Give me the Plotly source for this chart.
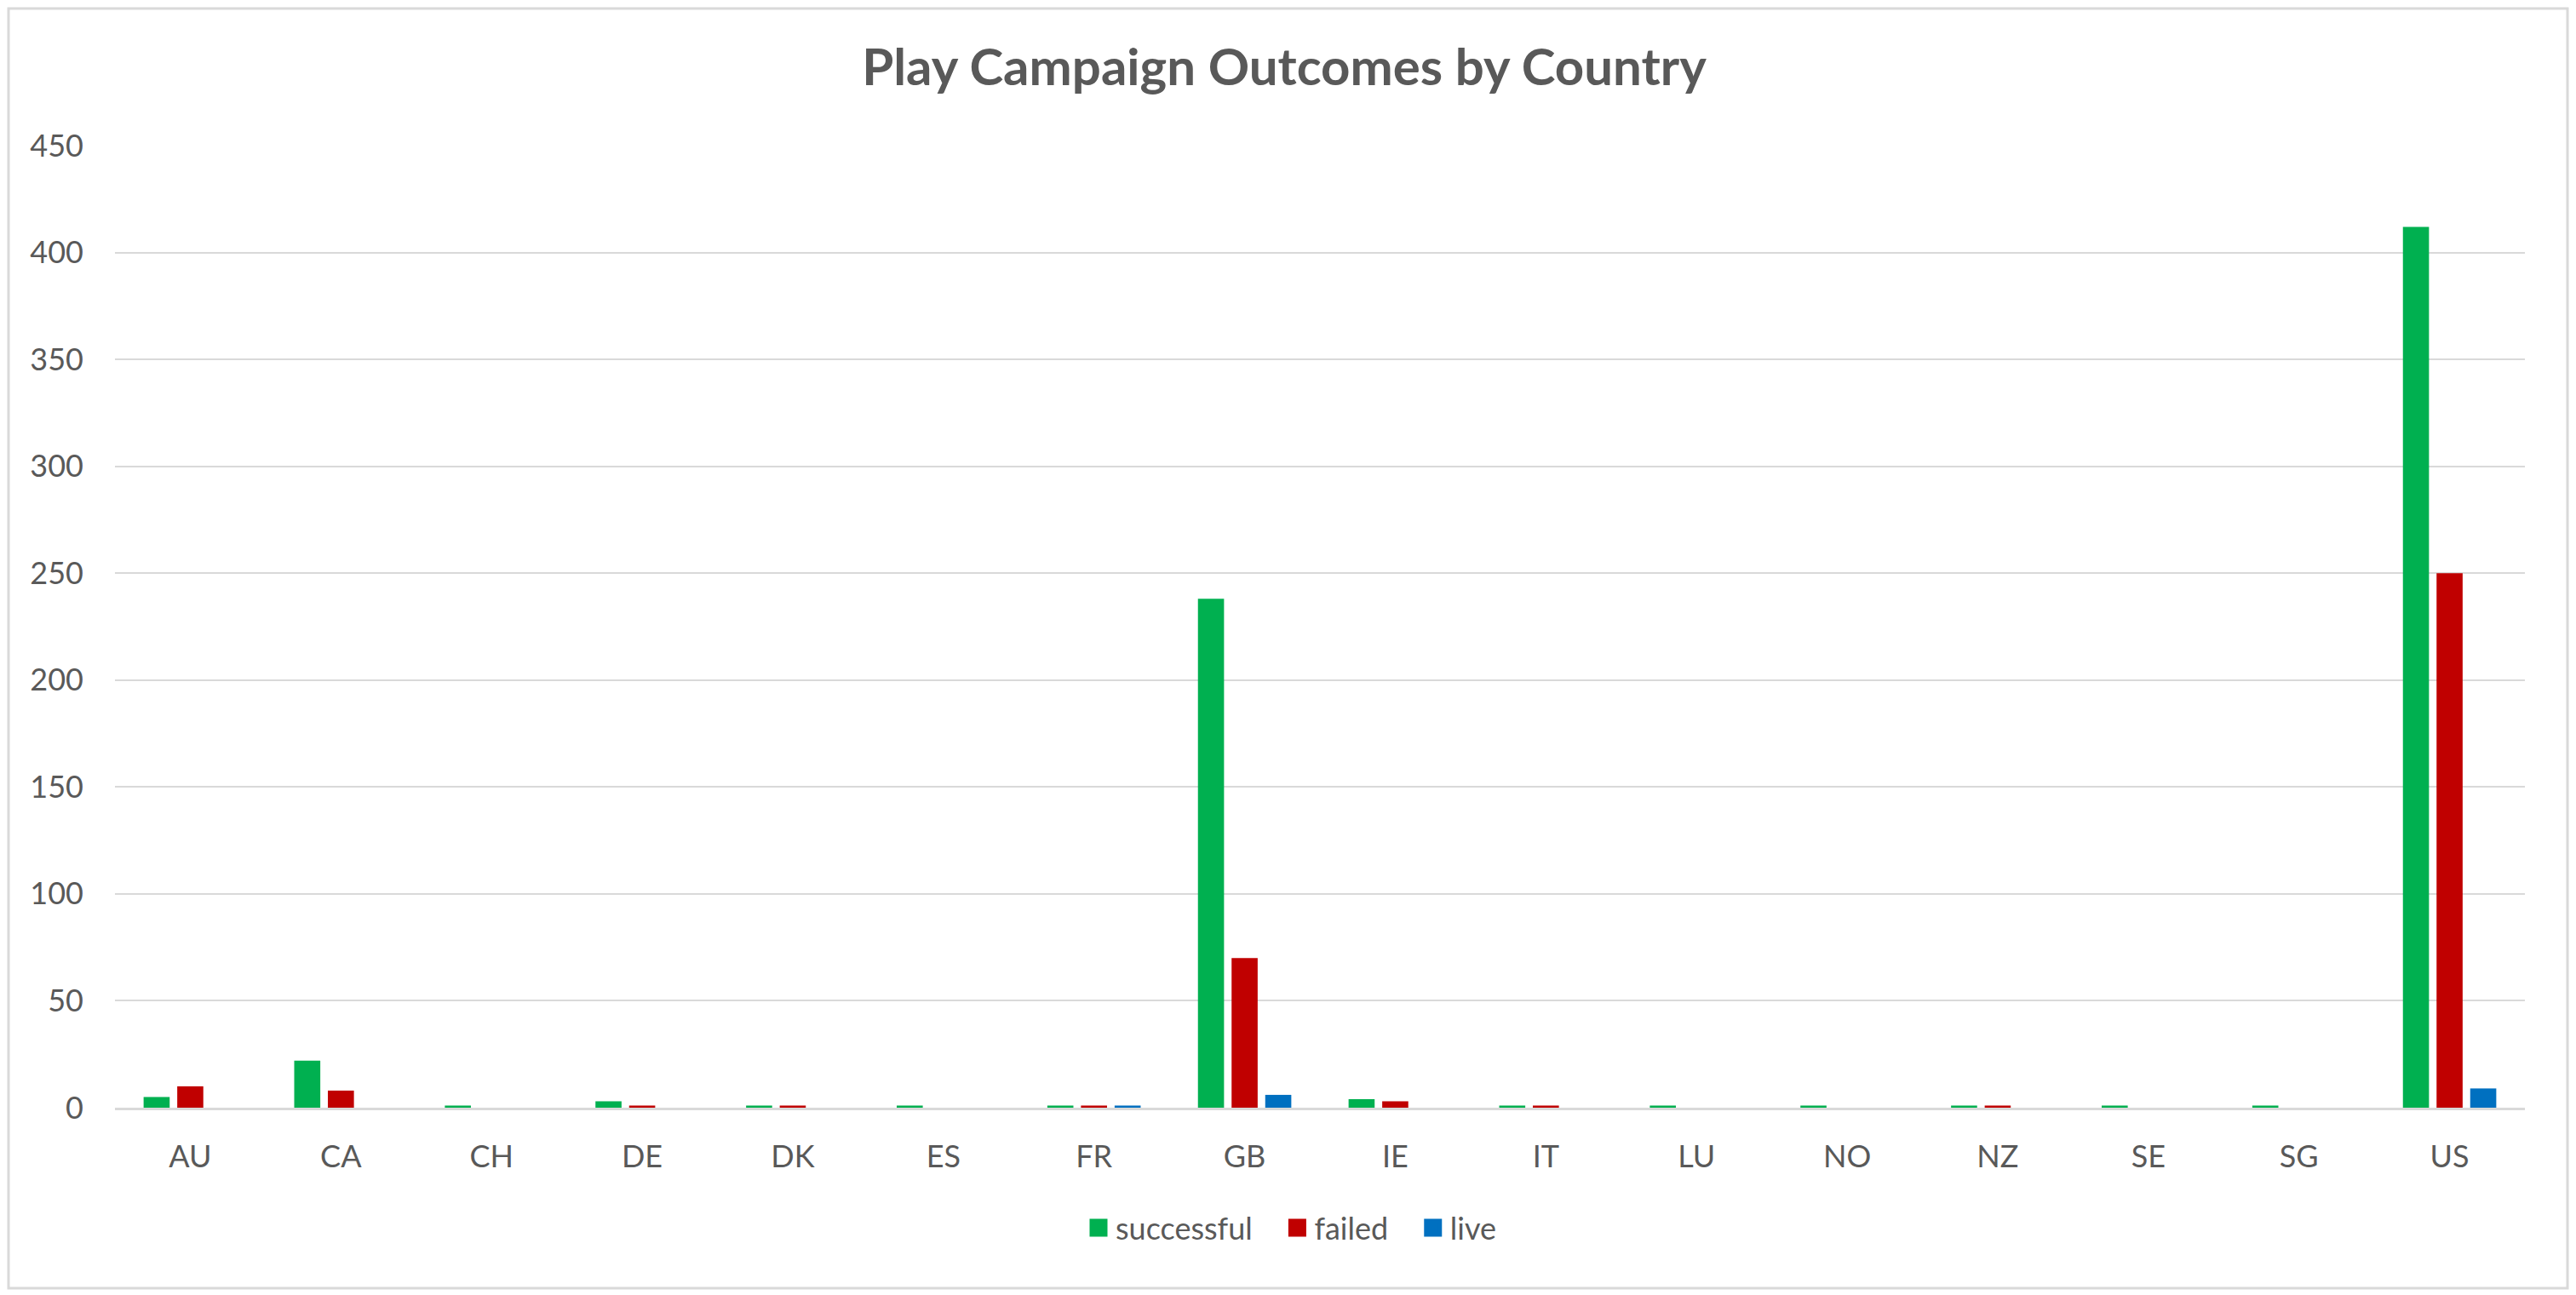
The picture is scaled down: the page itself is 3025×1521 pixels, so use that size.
import plotly.graph_objects as go

countries = ["AU", "CA", "CH", "DE", "DK", "ES", "FR", "GB",
             "IE", "IT", "LU", "NO", "NZ", "SE", "SG", "US"]
successful = [5, 22, 1, 3, 1, 1, 1, 238, 4, 1, 1, 1, 1, 1, 1, 412]
failed = [10, 8, 0, 1, 1, 0, 1, 70, 3, 1, 0, 0, 1, 0, 0, 250]
live = [0, 0, 0, 0, 0, 0, 1, 6, 0, 0, 0, 0, 0, 0, 0, 9]
y_ticks = [0, 50, 100, 150, 200, 250, 300, 350, 400, 450]

# page body adds ~8px margin, so layout is measured in page pixels minus OFF
OFF = 8
W, H = 3025 - OFF, 1521 - OFF
ML, MT = 135 - OFF, 171 - OFF
MR, MB = W - (2965 - OFF), H - (1301 - OFF)
TEXT = "#595959"
GRID = "#d9d9d9"
FONT = "Lato, 'Open Sans', sans-serif"
NBSP = "\u00a0"

pw = W - ML - MR
ph = H - MT - MB


def px_x(x):
    # page pixel column -> paper x
    return (x - OFF - ML) / pw


def px_y(y):
    # page pixel row -> paper y
    return (H - MB - (y - OFF)) / ph


series = [("successful", successful, "#00B050"),
          ("failed", failed, "#C00000"),
          ("live", live, "#0070C0")]

fig = go.Figure()
for name, vals, col in series:
    fig.add_trace(go.Bar(
        x=countries,
        y=vals,
        name=name,
        marker=dict(color=col, line=dict(width=0)),
        showlegend=False,
    ))

# legend-only entries so the swatches come out bigger, like Excel's
for name, vals, col in series:
    fig.add_trace(go.Scatter(
        x=[None], y=[None],
        mode="markers",
        name=name + NBSP * 3,
        marker=dict(symbol="square", size=16, color=col,
                    line=dict(color=col, width=5)),
        hoverinfo="skip",
    ))

fig.update_layout(
    width=W,
    height=H,
    margin=dict(l=ML, r=MR, t=MT, b=MB, pad=0),
    paper_bgcolor="white",
    plot_bgcolor="white",
    barmode="group",
    bargap=0.33,
    bargroupgap=0.225,
    font=dict(family=FONT, size=36, color=TEXT),
    title=dict(
        text="<b>Play Campaign Outcomes by Country</b>",
        x=(1508 - OFF) / W,
        xanchor="center",
        xref="container",
        y=1 - (79 - OFF) / H,
        yanchor="middle",
        yref="container",
        font=dict(family=FONT, size=60, color=TEXT),
    ),
    xaxis=dict(
        showline=True,
        linecolor=GRID,
        linewidth=3,
        showgrid=False,
        ticks="",
        ticklabelstandoff=24,
        tickfont=dict(size=36, color=TEXT),
    ),
    yaxis=dict(
        range=[0, 450],
        tickvals=y_ticks,
        showgrid=True,
        gridcolor=GRID,
        gridwidth=2,
        zeroline=False,
        showline=False,
        ticks="",
        ticklabelstandoff=36,
        tickfont=dict(size=36, color=TEXT),
    ),
    legend=dict(
        orientation="h",
        x=px_x(1530),
        xanchor="center",
        y=px_y(1442),
        yanchor="middle",
        font=dict(size=36, color=TEXT),
        bgcolor="rgba(0,0,0,0)",
        itemclick=False,
    ),
    shapes=[dict(
        type="rect",
        xref="paper", yref="paper",
        x0=px_x(OFF + 2), x1=px_x(3015),
        y0=px_y(1513), y1=px_y(OFF + 2),
        line=dict(color=GRID, width=3),
        fillcolor="rgba(0,0,0,0)",
        layer="below",
    )],
    showlegend=True,
)

fig.write_html("out.html")
